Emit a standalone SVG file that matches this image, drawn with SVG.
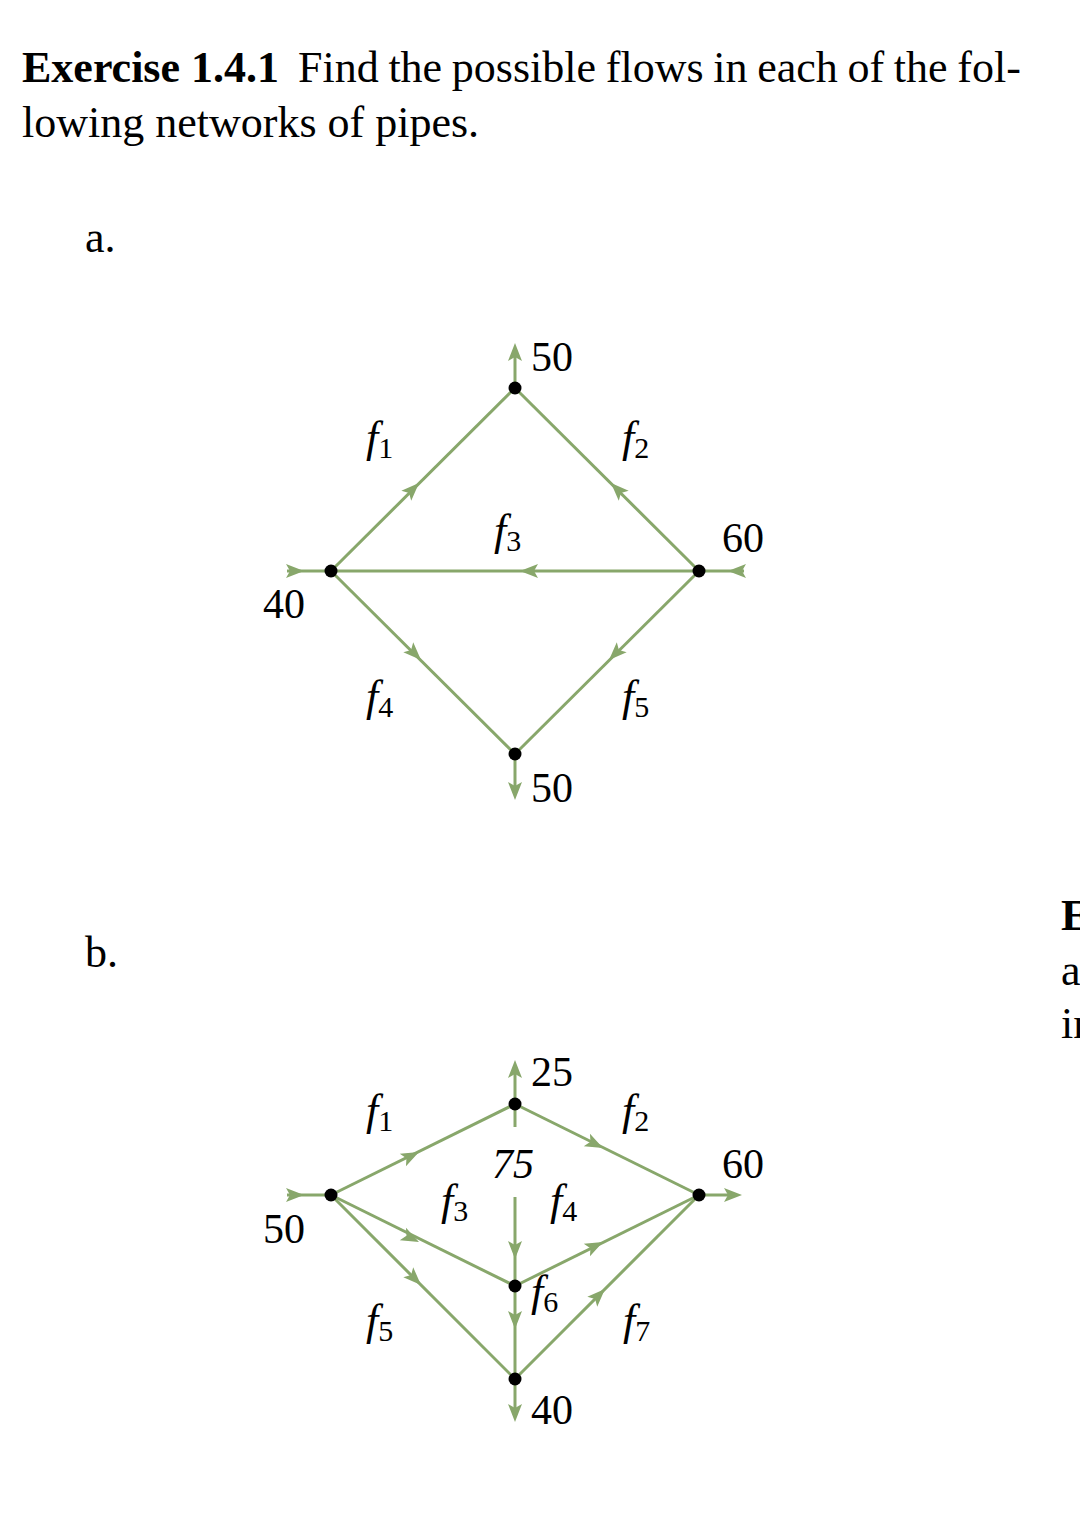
<svg xmlns="http://www.w3.org/2000/svg" xmlns:xlink="http://www.w3.org/1999/xlink" width="1080" height="1514" viewBox="0 0 1080 1514">
<style>
.t{font-family:"Liberation Serif","Times New Roman",serif;fill:#000}
.h{font-size:44px}
.n{font-size:42px}
.f{font-size:44px;font-style:italic}
.s{font-size:30px;font-style:normal}
.e{stroke:#88a76b;stroke-width:3;fill:none;stroke-linecap:butt}
.ah{fill:#88a76b}
.nd{fill:#000}
</style>
<defs>
<path id="ah" d="M0,0 L-18,-7 L-14,0 L-18,7 Z"/>
</defs>
<rect width="1080" height="1514" fill="#fff"/>
<g id="text" font-family="Liberation Serif, Times New Roman, serif">
<text class="t h" x="22" y="82"><tspan font-weight="bold">Exercise 1.4.1</tspan><tspan x="298" word-spacing="-1.3">Find the possible flows in each of the fol-</tspan></text>
<text class="t h" x="22" y="137">lowing networks of pipes.</text>
<text class="t h" x="85" y="252">a.</text>
<text class="t h" x="85" y="967">b.</text>
<text class="t h" x="1061" y="930" font-weight="bold">E</text>
<text class="t h" x="1061" y="985">a</text>
<text class="t h" x="1061" y="1038">in</text>
</g>
<g id="connectors-a">
<line class="e" x1="331" y1="571" x2="515" y2="388"/>
<line class="e" x1="699" y1="571" x2="515" y2="388"/>
<line class="e" x1="331" y1="571" x2="699" y2="571"/>
<line class="e" x1="331" y1="571" x2="515" y2="754"/>
<line class="e" x1="699" y1="571" x2="515" y2="754"/>
<line class="e" x1="515" y1="388" x2="515" y2="350"/>
<line class="e" x1="287" y1="571" x2="331" y2="571"/>
<line class="e" x1="699" y1="571" x2="744" y2="571"/>
<line class="e" x1="515" y1="754" x2="515" y2="792"/>
<g class="ah">
<use xlink:href="#ah" transform="translate(419,483) rotate(-45)"/>
<use xlink:href="#ah" transform="translate(611,483) rotate(-135)"/>
<use xlink:href="#ah" transform="translate(520,571) rotate(180)"/>
<use xlink:href="#ah" transform="translate(421,660) rotate(45)"/>
<use xlink:href="#ah" transform="translate(609,660) rotate(135)"/>
<use xlink:href="#ah" transform="translate(515,343) rotate(-90)"/>
<use xlink:href="#ah" transform="translate(304,571)"/>
<use xlink:href="#ah" transform="translate(728,571) rotate(180)"/>
<use xlink:href="#ah" transform="translate(515,800) rotate(90)"/>
</g>
</g>
<g id="nodes-a">
<g id="a-top"><circle class="nd" cx="515" cy="388" r="6.5"/></g>
<g id="a-left"><circle class="nd" cx="331" cy="571" r="6.5"/></g>
<g id="a-right"><circle class="nd" cx="699" cy="571" r="6.5"/></g>
<g id="a-bottom"><circle class="nd" cx="515" cy="754" r="6.5"/></g>
</g>
<g id="labels-a" font-family="Liberation Serif, Times New Roman, serif">
<text class="t n" x="531" y="371">50</text>
<text class="t n" x="722" y="552">60</text>
<text class="t n" x="263" y="618">40</text>
<text class="t n" x="531" y="802">50</text>
<text class="t f" x="366" y="452">f<tspan class="s" dy="6">1</tspan></text>
<text class="t f" x="622" y="452">f<tspan class="s" dy="6">2</tspan></text>
<text class="t f" x="494" y="545">f<tspan class="s" dy="6">3</tspan></text>
<text class="t f" x="366" y="711">f<tspan class="s" dy="6">4</tspan></text>
<text class="t f" x="622" y="711">f<tspan class="s" dy="6">5</tspan></text>
</g>
<g id="connectors-b">
<line class="e" x1="331" y1="1195" x2="515" y2="1104"/>
<line class="e" x1="515" y1="1104" x2="699" y2="1195"/>
<line class="e" x1="331" y1="1195" x2="515" y2="1286"/>
<line class="e" x1="515" y1="1286" x2="699" y2="1195"/>
<line class="e" x1="331" y1="1195" x2="515" y2="1379"/>
<line class="e" x1="515" y1="1379" x2="699" y2="1195"/>
<line class="e" x1="515" y1="1286" x2="515" y2="1379"/>
<line class="e" x1="515" y1="1104" x2="515" y2="1127"/>
<line class="e" x1="515" y1="1197" x2="515" y2="1286"/>
<line class="e" x1="515" y1="1104" x2="515" y2="1066"/>
<line class="e" x1="287" y1="1195" x2="331" y2="1195"/>
<line class="e" x1="699" y1="1195" x2="736" y2="1195"/>
<line class="e" x1="515" y1="1379" x2="515" y2="1416"/>
<g class="ah">
<use xlink:href="#ah" transform="translate(419,1152) rotate(-26.3)"/>
<use xlink:href="#ah" transform="translate(603,1148) rotate(26.3)"/>
<use xlink:href="#ah" transform="translate(419,1242) rotate(26.3)"/>
<use xlink:href="#ah" transform="translate(603,1242) rotate(-26.3)"/>
<use xlink:href="#ah" transform="translate(421,1285) rotate(45)"/>
<use xlink:href="#ah" transform="translate(605,1289) rotate(-45)"/>
<use xlink:href="#ah" transform="translate(515,1329) rotate(90)"/>
<use xlink:href="#ah" transform="translate(515,1259) rotate(90)"/>
<use xlink:href="#ah" transform="translate(515,1060) rotate(-90)"/>
<use xlink:href="#ah" transform="translate(304,1195)"/>
<use xlink:href="#ah" transform="translate(742,1195)"/>
<use xlink:href="#ah" transform="translate(515,1422) rotate(90)"/>
</g>
</g>
<g id="nodes-b">
<g id="b-top"><circle class="nd" cx="515" cy="1104" r="6.5"/></g>
<g id="b-left"><circle class="nd" cx="331" cy="1195" r="6.5"/></g>
<g id="b-right"><circle class="nd" cx="699" cy="1195" r="6.5"/></g>
<g id="b-middle"><circle class="nd" cx="515" cy="1286" r="6.5"/></g>
<g id="b-bottom"><circle class="nd" cx="515" cy="1379" r="6.5"/></g>
</g>
<g id="labels-b" font-family="Liberation Serif, Times New Roman, serif">
<text class="t n" x="531" y="1086">25</text>
<text class="t n" x="492" y="1178" font-style="italic">75</text>
<text class="t n" x="722" y="1178">60</text>
<text class="t n" x="263" y="1243">50</text>
<text class="t n" x="531" y="1424">40</text>
<text class="t f" x="366" y="1125">f<tspan class="s" dy="6">1</tspan></text>
<text class="t f" x="622" y="1125">f<tspan class="s" dy="6">2</tspan></text>
<text class="t f" x="441" y="1215">f<tspan class="s" dy="6">3</tspan></text>
<text class="t f" x="550" y="1215">f<tspan class="s" dy="6">4</tspan></text>
<text class="t f" x="531" y="1306">f<tspan class="s" dy="6">6</tspan></text>
<text class="t f" x="366" y="1335">f<tspan class="s" dy="6">5</tspan></text>
<text class="t f" x="623" y="1335">f<tspan class="s" dy="6">7</tspan></text>
</g>
</svg>
